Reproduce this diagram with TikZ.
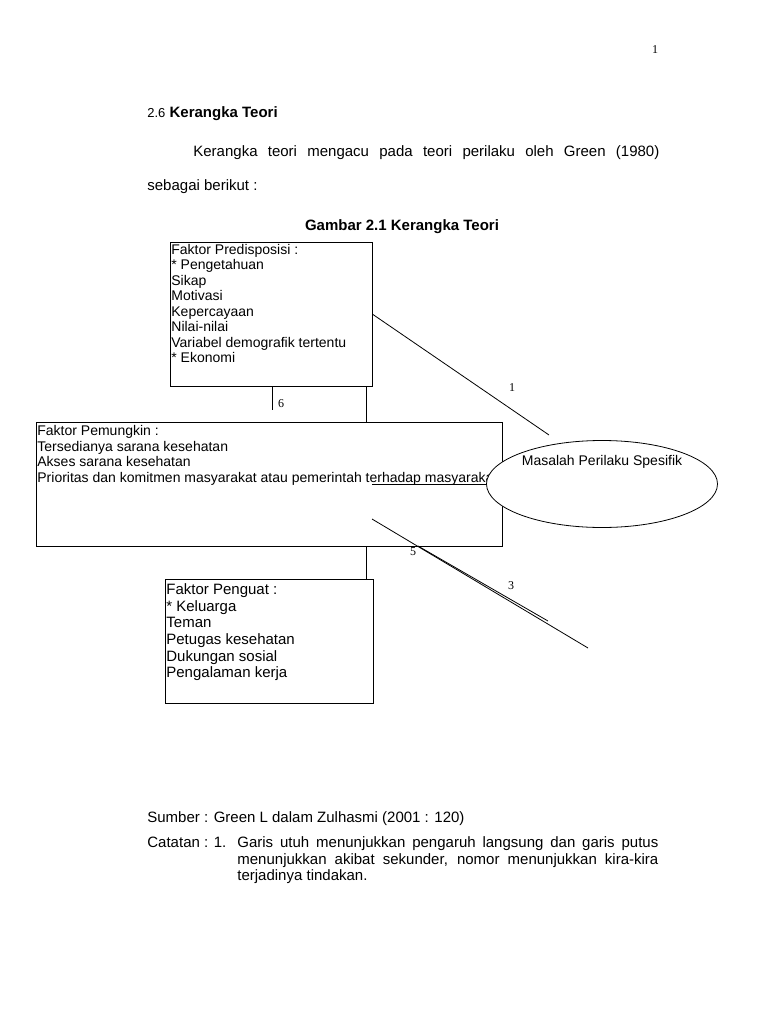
\documentclass[tikz,border=0pt]{standalone}
\usepackage{fontspec}
\setmainfont{Liberation Sans}
\newfontfamily\serifnum{Liberation Serif}
\usetikzlibrary{shapes.geometric}
\begin{document}
\begin{tikzpicture}[x=1pt,y=-1pt, line width=0.8pt,
  box/.style={draw, rectangle, anchor=north west, inner sep=0pt},
  txt/.style={anchor=base west, inner sep=0pt, font=\fontsize{15}{16.5}\selectfont},
  boxtxt/.style={anchor=north west, inner sep=0pt, align=left},
  num/.style={inner sep=0pt, font=\serifnum\fontsize{12}{12}\selectfont}]
\useasboundingbox[fill=white] (0,0) rectangle (768,1024);

% page number and headings
\node[num] (page) at (655,50) {1};
\node[txt] (sec) at (147,118) {{\fontsize{13}{13}\selectfont 2.6} \textbf{Kerangka Teori}};
\node[txt] (intro) at (193,157) {\makebox[466pt][s]{Kerangka teori mengacu pada teori perilaku oleh Green (1980)}};
\node[txt] (intro2) at (147,191) {sebagai berikut :};
\node[txt, anchor=base] (gam) at (402,230) {\bfseries Gambar 2.1 Kerangka Teori};

% Faktor Predisposisi
\node[box, minimum width=202pt, minimum height=144pt] (pre) at (170,242) {};
\node[boxtxt, font=\fontsize{14}{15.43}\selectfont] (pretxt) at (171,244) {Faktor Predisposisi :\\ * Pengetahuan\\ Sikap\\ Motivasi\\ Kepercayaan\\ Nilai-nilai\\ Variabel demografik tertentu\\ * Ekonomi};

% Faktor Pemungkin
\node[box, minimum width=466pt, minimum height=124pt] (pem) at (36,422) {};
\node[boxtxt, font=\fontsize{14}{15.7}\selectfont] (pemtxt) at (37,425) {Faktor Pemungkin :\\ Tersedianya sarana kesehatan\\ Akses sarana kesehatan\\ Prioritas dan komitmen masyarakat atau pemerintah terhadap masyarakat};

% Masalah Perilaku Spesifik
\node[draw, ellipse, fill=white, minimum width=231pt, minimum height=87pt, inner sep=0pt] (mas) at (602,484) {};
\node[inner sep=0pt, font=\fontsize{14}{14}\selectfont] (mastxt) at (602,462) {Masalah Perilaku Spesifik};

% Faktor Penguat
\node[box, minimum width=208pt, minimum height=124pt] (pen) at (165,579) {};
\node[boxtxt, font=\fontsize{15}{16.6}\selectfont] (pentxt) at (166,583.5) {Faktor Penguat :\\ * Keluarga\\ Teman\\ Petugas kesehatan\\ Dukungan sosial\\ Pengalaman kerja};

% connectors
\coordinate (c6) at (272,410);
\draw (c6 |- pre.south) -- (c6);
\node[num] (n6) at (281,404) {6};

\coordinate (k1) at (366,0);
\draw (k1 |- pre.south) -- (k1 |- pem.north);
\draw (k1 |- pem.south) -- (k1 |- pen.north);

\coordinate (e1) at (549,435);
\draw (pre.east) -- (e1);
\node[num] (n1) at (512,388) {1};

\coordinate (h0) at (372,484);
\draw (h0) -- (mas.west);

\coordinate (l5a) at (372,519);
\coordinate (l5b) at (588,648);
\draw (l5a) -- (l5b);
\coordinate (l3a) at (418,546);
\coordinate (l3b) at (548,621);
\draw (l3a) -- (l3b);
\node[num] (n5) at (413,552) {5};
\node[num] (n3) at (511,586) {3};

% footer
\node[txt] (sum) at (147,822) {Sumber : Green L dalam Zulhasmi (2001 : 120)};
\node[txt] (cat) at (147,847) {Catatan : 1.};
\node[boxtxt, font=\fontsize{15}{16.5}\selectfont] (catx) at (237,836.3) {\makebox[421pt][s]{Garis utuh menunjukkan pengaruh langsung dan garis putus}\\ \makebox[421pt][s]{menunjukkan akibat sekunder, nomor menunjukkan kira-kira}\\ terjadinya tindakan.};
\end{tikzpicture}
\end{document}
